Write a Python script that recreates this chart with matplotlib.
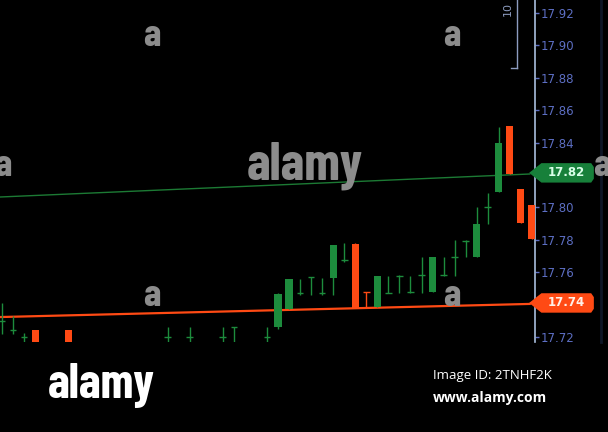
import matplotlib
matplotlib.use("Agg")
import matplotlib.pyplot as plt
import matplotlib.transforms as mtransforms
from matplotlib.patches import Polygon

# candle index, open, high, low, close
idx = [0, 1, 2, 3, 6, 15, 17, 20, 21, 24, 25, 26, 27, 28, 29, 30, 31, 32, 33,
       34, 35, 36, 37, 38, 39, 40, 41, 42, 43, 44, 45, 46, 47, 48]
opens = [17.730, 17.724, 17.720, 17.7243, 17.7243, 17.720, 17.720, 17.720, 17.726,
         17.720, 17.7262, 17.7373, 17.747, 17.757, 17.7472, 17.7564, 17.7675,
         17.7774, 17.7478, 17.7385, 17.7472, 17.7577, 17.7478, 17.7583, 17.7478,
         17.7583, 17.7694, 17.779, 17.7694, 17.8002, 17.8095, 17.850, 17.8114, 17.8015]
highs = [17.741, 17.733, 17.7225, 17.7243, 17.7243, 17.726, 17.726, 17.726, 17.726,
         17.726, 17.747, 17.7558, 17.7558, 17.757, 17.7565, 17.777, 17.778,
         17.778, 17.748, 17.7577, 17.7577, 17.758, 17.7577, 17.7694, 17.7694,
         17.7694, 17.7799, 17.7799, 17.8002, 17.8089, 17.8496, 17.850, 17.8114, 17.8015]
lows = [17.722, 17.722, 17.715, 17.710, 17.710, 17.712, 17.712, 17.712, 17.715,
        17.712, 17.725, 17.7373, 17.7459, 17.746, 17.746, 17.7459, 17.7663,
        17.7379, 17.7379, 17.7385, 17.7472, 17.7472, 17.747, 17.7472, 17.7478,
        17.7577, 17.7577, 17.7694, 17.7694, 17.7898, 17.8095, 17.8206, 17.7904, 17.7805]
closes = [17.730, 17.724, 17.720, 17.712, 17.712, 17.720, 17.720, 17.720, 17.726,
          17.720, 17.7465, 17.7558, 17.747, 17.757, 17.7472, 17.7768, 17.7675,
          17.7379, 17.7478, 17.7577, 17.7472, 17.7577, 17.7478, 17.7583, 17.7694,
          17.7583, 17.7694, 17.779, 17.7898, 17.8002, 17.8398, 17.8206, 17.7904, 17.7805]
red_doji = [33]

# trend lines (start, end price)
green_line = [17.8064, 17.8206]
orange_line = [17.7323, 17.7404]

yticks = [17.72, 17.74, 17.76, 17.78, 17.80, 17.82, 17.84, 17.86, 17.88, 17.90, 17.92]
hidden_ticks = [17.74, 17.82]   # covered by the price tags
tags = [("17.82", 17.8213, "#17803a", "#d8ffe8"), ("17.74", 17.7410, "#ff4a14", "#fff0e8")]

GREEN = "#1d8c3d"
ORANGE = "#ff4a14"
BLUE = "#5d6fc4"
LOGO = ["Barlow Condensed", "DejaVu Sans"]

fig = plt.figure(figsize=(6.08, 4.32), dpi=100, facecolor="black")
ax = fig.add_axes([0, 90 / 432, 535 / 608, 342 / 432])
ax.set_facecolor("black")
ax.set_xlim(-0.18, 48.28)
ax.set_ylim(17.7169, 17.928)

# trend lines
ax.plot([-0.18, 47.8], green_line, color="#1c7a34", lw=1.0, zorder=2)
ax.plot([-0.18, 47.8], orange_line, color="#ff4a14", lw=1.6, zorder=2)

# candles
for k, o, h, l, c in zip(idx, opens, highs, lows, closes):
    up = c >= o
    col = GREEN if up else ORANGE
    if k in red_doji:
        col = ORANGE
    ax.vlines(k, l, h, color=col, lw=1.0, zorder=3)
    if abs(c - o) > 0.002:
        ax.bar(k, abs(c - o), bottom=min(o, c), width=0.65, color=col, zorder=4)
    else:
        ax.hlines(o, k - 0.3, k + 0.3, color=col, lw=1.0, zorder=4)

# right price axis
for s in ["top", "left", "bottom"]:
    ax.spines[s].set_visible(False)
ax.spines["right"].set_color("#a9bede")
ax.spines["right"].set_linewidth(1.2)
ax.yaxis.tick_right()
ax.set_yticks(yticks)
ax.set_yticklabels(["" if v in hidden_ticks else f"{v:.2f}" for v in yticks])
ax.tick_params(axis="y", colors=BLUE, labelcolor=BLUE, length=3, width=1,
               direction="out", labelsize=8.5, pad=1)
ax.set_xticks([])

# price tags on the axis
trans = mtransforms.blended_transform_factory(ax.transAxes, ax.transData)
for txt, y, fc, tc in tags:
    hh = 0.0060
    pts = [(0.989, y), (1.012, y + hh), (1.105, y + hh), (1.110, y + hh * 0.6),
           (1.110, y - hh * 0.6), (1.105, y - hh), (1.012, y - hh)]
    ax.add_patch(Polygon(pts, closed=True, transform=trans, facecolor=fc,
                         edgecolor="none", clip_on=False, zorder=10))
    ax.text(1.058, y, txt, transform=trans, color=tc, fontsize=8.5, fontweight="bold",
            ha="center", va="center", zorder=11, clip_on=False)

# bracket at the top
fig.add_artist(plt.Line2D([517 / 608, 517 / 608], [1, 1 - 68 / 432], color="#8d9cc0", lw=1))
fig.add_artist(plt.Line2D([511 / 608, 517 / 608], [1 - 68 / 432, 1 - 68 / 432], color="#8d9cc0", lw=1))
fig.text(508 / 608, 1 - 2 / 432, "10", color="#8d9cc0", fontsize=8, rotation=90,
         ha="center", va="top")
fig.add_artist(plt.Line2D([601 / 608, 601 / 608], [90 / 432, 1], color="#0e1626", lw=2))

# watermarks
wm = dict(color="#8c8c8c", fontweight="bold", ha="center", va="center",
          family=LOGO, zorder=20)
fig.text(305 / 608, 1 - 166 / 432, "alamy", fontsize=38, **wm)
for px, py in [(152, 36), (452, 36), (152, 296), (452, 296), (3, 166), (602, 166)]:
    fig.text(px / 608, 1 - py / 432, "a", fontsize=28, **wm)

# footer
fig.text(101 / 608, 1 - 386 / 432, "alamy", color="white", fontsize=35, fontweight="bold",
         ha="center", va="center", family=LOGO)
fig.text(492 / 608, 1 - 375 / 432, "Image ID: 2TNHF2K", color="white", fontsize=9.5,
         ha="center", va="center", family=["Open Sans", "DejaVu Sans"])
fig.text(490 / 608, 1 - 398 / 432, "www.alamy.com", color="white", fontsize=10,
         fontweight="bold", ha="center", va="center", family=["Open Sans", "DejaVu Sans"])

fig.savefig("out.png", dpi=100, facecolor="black")
